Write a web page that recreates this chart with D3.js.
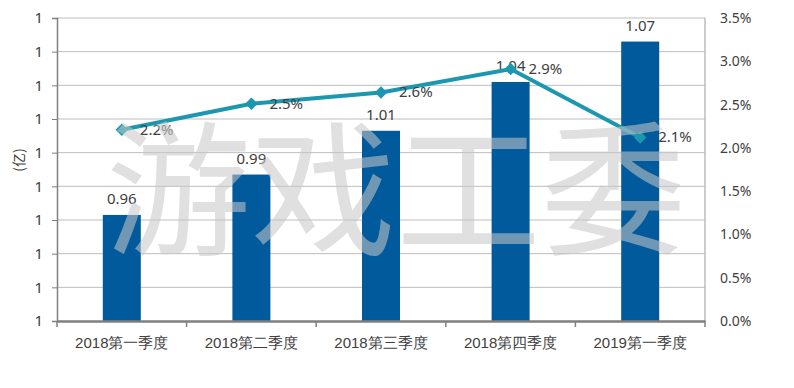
<!DOCTYPE html>
<html><head><meta charset="utf-8">
<script src="https://cdn.jsdelivr.net/npm/d3@7"></script>
<style>body{margin:0;background:#fff;}svg{display:block;font-family:"Noto Sans CJK SC","Noto Sans",sans-serif;}</style>
</head><body><svg id="c" width="794" height="388"></svg>
<script>
const categories = ["2018第一季度","2018第二季度","2018第三季度","2018第四季度","2019第一季度"];
const barValues = [0.963, 0.987, 1.013, 1.042, 1.066];
const barLabels = ["0.96","0.99","1.01","1.04","1.07"];
const lineValues = [2.21, 2.51, 2.64, 2.91, 2.12];
const lineLabels = ["2.2%","2.5%","2.6%","2.9%","2.1%"];
const leftTicks = [0.90,0.92,0.94,0.96,0.98,1.00,1.02,1.04,1.06,1.08];
const leftTickLabels = ["1","1","1","1","1","1","1","1","1","1"];
const rightTicks = [0,0.5,1,1.5,2,2.5,3,3.5];
const rightTickLabels = ["0.0%","0.5%","1.0%","1.5%","2.0%","2.5%","3.0%","3.5%"];

const svg = d3.select("#c");
const L = 57, R = 705, T = 18, B = 321;
const x = d3.scaleBand().domain(categories).range([L, R]).paddingInner(0).paddingOuter(0);
const yL = d3.scaleLinear().domain([0.90, 1.08]).range([B, T]);
const yR = d3.scaleLinear().domain([0, 3.5]).range([B, T]);
const txt = "#404040";

// gridlines
svg.append("g").selectAll("line").data(leftTicks.slice(1)).join("line")
  .attr("x1", L).attr("x2", R).attr("y1", d => yL(d)).attr("y2", d => yL(d))
  .attr("stroke", "#bdbdbd").attr("stroke-width", 1);

// right border
svg.append("line").attr("x1", R).attr("x2", R).attr("y1", T).attr("y2", B)
  .attr("stroke", "#bdbdbd").attr("stroke-width", 1.5);

// left axis
const gL = svg.append("g").attr("transform", `translate(${L},0)`)
  .call(d3.axisLeft(yL).tickValues(leftTicks).tickFormat((d,i) => leftTickLabels[i]).tickSize(5).tickPadding(9));
gL.select(".domain").attr("stroke", "#7f7f7f").attr("stroke-width", 1.5);
gL.selectAll(".tick line").attr("stroke", "#7f7f7f");
gL.selectAll("text").attr("fill", txt).attr("font-size", 15).attr("font-family", "Noto Sans, sans-serif");

// right axis labels
const gR = svg.append("g").attr("transform", `translate(${R},0)`)
  .call(d3.axisRight(yR).tickValues(rightTicks).tickFormat((d,i) => rightTickLabels[i]).tickSize(0).tickPadding(15));
gR.select(".domain").remove();
gR.selectAll("text").attr("fill", txt).attr("font-size", 14).attr("font-family", "Noto Sans, sans-serif");

// bars
const bw = 38;
svg.append("g").selectAll("rect").data(barValues).join("rect")
  .attr("x", (d,i) => x(categories[i]) + x.bandwidth()/2 - bw/2)
  .attr("width", bw)
  .attr("y", d => yL(d)).attr("height", d => B - yL(d))
  .attr("fill", "#005a9c");

// bottom axis
const gB = svg.append("g").attr("transform", `translate(0,${B})`)
  .call(d3.axisBottom(x).tickSize(0).tickPadding(16));
gB.select(".domain").attr("stroke", "#7f7f7f").attr("stroke-width", 2.5);
gB.selectAll("text").attr("fill", txt).attr("font-size", 15);
// boundary ticks
const bounds = categories.map(c => x(c)).concat([R]);
svg.append("g").selectAll("line").data(bounds).join("line")
  .attr("x1", d => d).attr("x2", d => d).attr("y1", B).attr("y2", B + 6)
  .attr("stroke", "#7f7f7f").attr("stroke-width", 1.5);

// bar labels
svg.append("g").selectAll("text").data(barValues).join("text")
  .attr("x", (d,i) => x(categories[i]) + x.bandwidth()/2)
  .attr("y", d => yL(d) - 11)
  .attr("text-anchor", "middle").attr("fill", txt).attr("font-size", 15)
  .attr("font-family", "Noto Sans, sans-serif")
  .text((d,i) => barLabels[i]);

// line
const cx = i => x(categories[i]) + x.bandwidth()/2;
const line = d3.line().x((d,i) => cx(i)).y(d => yR(d));
svg.append("path").datum(lineValues).attr("d", line)
  .attr("fill", "none").attr("stroke", "#1b98b0").attr("stroke-width", 4).attr("stroke-linejoin", "round");
svg.append("g").selectAll("path").data(lineValues).join("path")
  .attr("d", d3.symbol().type(d3.symbolDiamond2).size(100))
  .attr("transform", (d,i) => `translate(${cx(i)},${yR(d)})`)
  .attr("fill", "#1b98b0");

// line labels
svg.append("g").selectAll("text").data(lineValues).join("text")
  .attr("x", (d,i) => cx(i) + 18)
  .attr("y", d => yR(d) + 5)
  .attr("fill", txt).attr("font-size", 15)
  .attr("font-family", "Noto Sans, sans-serif")
  .text((d,i) => lineLabels[i]);

// y-axis title
svg.append("text").attr("transform", "translate(18,160) rotate(-90)")
  .attr("text-anchor", "middle").attr("dominant-baseline", "central")
  .attr("fill", txt).attr("font-size", 14).text("(亿)");

// watermark
svg.append("text").attr("x", 396).attr("y", 181)
  .attr("text-anchor", "middle").attr("dominant-baseline", "central")
  .attr("font-size", 145).attr("fill", "rgb(199,199,199)").attr("fill-opacity", 0.56)
  .text("游戏工委");
</script></body></html>
